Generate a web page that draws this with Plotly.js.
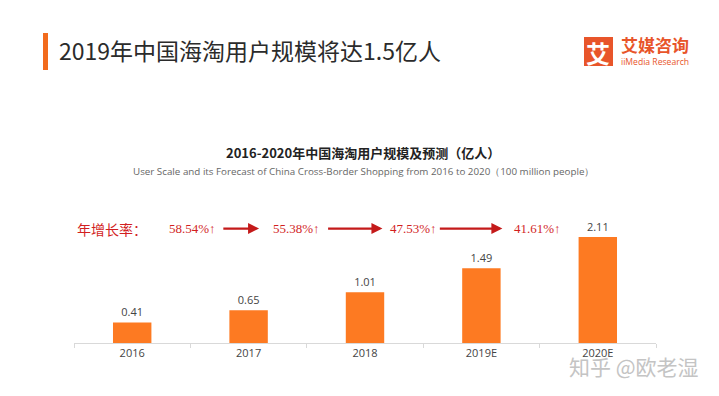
<!DOCTYPE html>
<html><head><meta charset="utf-8">
<script src="https://cdn.plot.ly/plotly-3.0.1.min.js"></script>
<style>html,body{margin:0;padding:0;background:#fff;}#chart{width:719px;height:396px;}</style>
</head><body><div id="chart"></div>
<script>
const categories = ['2016', '2017', '2018', '2019E', '2020E'];
const users = [0.41, 0.65, 1.01, 1.49, 2.11];
const growthRates = ['58.54%↑', '55.38%↑', '47.53%↑', '41.61%↑'];
const growthLabel = '年增长率：';
const mainTitle = '2019年中国海淘用户规模将达1.5亿人';
const chartTitle = '2016-2020年中国海淘用户规模及预测（亿人）';
const chartSubtitle = 'User Scale and its Forecast of China Cross-Border Shopping from 2016 to 2020（100 million people）';

const W = 719, H = 396, L = 74, R = 63, T = 218, B = 53;
const pw = W - L - R, ph = H - T - B;
const px = x => (x - L) / pw;
const py = y => (H - B - y) / ph;
const CJK = '"Noto Sans CJK SC", "Noto Sans", sans-serif';
const RED = '#d21f1f';

const ann = [];
ann.push({xref:'paper', yref:'paper', x:px(57), y:py(50), xanchor:'left', yanchor:'middle', showarrow:false,
  text:mainTitle, font:{family:CJK, size:23, color:'#2b2b2b'}});
ann.push({xref:'paper', yref:'paper', x:px(598), y:py(52), xanchor:'center', yanchor:'middle', showarrow:false,
  text:'<b>艾</b>', font:{family:CJK, size:24, color:'#ffffff'}});
ann.push({xref:'paper', yref:'paper', x:px(619), y:py(44), xanchor:'left', yanchor:'middle', showarrow:false,
  text:'<b>艾媒咨询</b>', font:{family:CJK, size:17, color:'#e8552a'}});
ann.push({xref:'paper', yref:'paper', x:px(619), y:py(62), xanchor:'left', yanchor:'middle', showarrow:false,
  text:'iiMedia Research', font:{family:'"Open Sans", sans-serif', size:8.6, color:'#e8552a'}});
ann.push({xref:'paper', yref:'paper', x:px(363), y:py(152), xanchor:'center', yanchor:'middle', showarrow:false,
  text:'<b>'+chartTitle+'</b>', font:{family:CJK, size:13, color:'#222'}});
ann.push({xref:'paper', yref:'paper', x:px(363), y:py(171), xanchor:'center', yanchor:'middle', showarrow:false,
  text:chartSubtitle, font:{family:'"Open Sans", sans-serif', size:9.8, color:'#666'}});
ann.push({xref:'paper', yref:'paper', x:px(634), y:py(366), xanchor:'center', yanchor:'middle', showarrow:false,
  text:'知乎 @欧老湿', font:{family:CJK, size:21, color:'#c4c4c4'}});

// growth-rate row
const gy = 2.28;
const labelPos = [0.52, 1.41, 2.42, 3.48];
ann.push({xref:'x', yref:'y', x:-0.17, y:gy, xanchor:'center', yanchor:'middle', showarrow:false,
  text:growthLabel, font:{family:'"Noto Sans CJK SC", serif', size:14, color:RED}});
growthRates.forEach((g, i) => {
  ann.push({xref:'x', yref:'y', x:labelPos[i], y:gy, xanchor:'center', yanchor:'middle', showarrow:false,
    text:g, font:{family:'"Liberation Serif", "Noto Sans CJK SC", serif', size:13, color:RED}});
});
const arrows = [[0.77, 1.09], [1.67, 2.15], [2.63, 3.18]];
arrows.forEach(a => {
  ann.push({xref:'x', yref:'y', axref:'x', ayref:'y', x:a[1], y:gy, ax:a[0], ay:gy, text:'',
    showarrow:true, arrowhead:2, arrowsize:1, arrowwidth:2.2, arrowcolor:'#c41a1a'});
});

const data = [{
  type:'bar', x:categories, y:users, marker:{color:'#fd7a22'},
  text:users.map(v => v.toFixed(2)), textposition:'outside', cliponaxis:false,
  textfont:{family:'"Open Sans", sans-serif', size:11, color:'#444'}, hoverinfo:'none'
}];

const layout = {
  width:W, height:H, margin:{l:L, r:R, t:T, b:B}, paper_bgcolor:'#fff', plot_bgcolor:'#fff',
  bargap:0.67, showlegend:false,
  xaxis:{type:'category', showline:true, linecolor:'#d9d9d9', linewidth:1, ticks:'outside', tickson:'boundaries',
    ticklen:4, tickcolor:'#d9d9d9', showgrid:false, zeroline:false,
    tickfont:{family:'"Open Sans", sans-serif', size:11, color:'#444'}},
  yaxis:{range:[0, 2.49], visible:false, showgrid:false, zeroline:false, fixedrange:true},
  shapes:[
    {type:'rect', xref:'paper', yref:'paper', x0:px(43), x1:px(48), y0:py(33), y1:py(70), fillcolor:'#f26b1d', line:{width:0}},
    {type:'rect', xref:'paper', yref:'paper', x0:px(584), x1:px(613), y0:py(37), y1:py(66), fillcolor:'#e8552a', line:{width:0}}
  ],
  annotations:ann
};
Plotly.newPlot('chart', data, layout, {displayModeBar:false, staticPlot:true});
</script></body></html>
